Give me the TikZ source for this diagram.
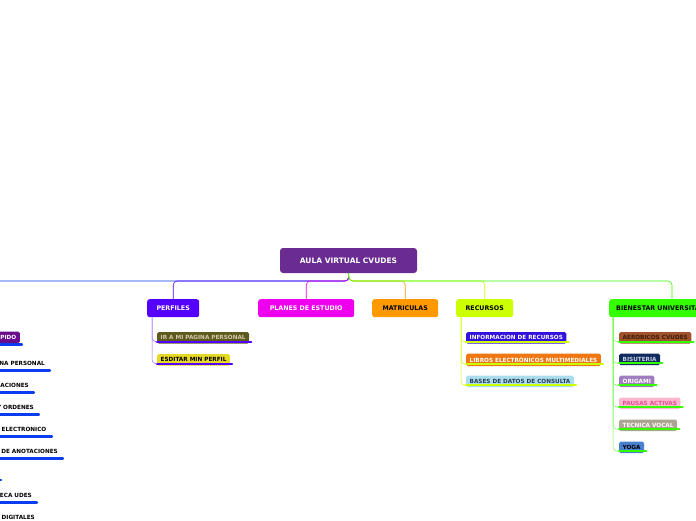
\documentclass[tikz,border=0pt]{standalone}
\usepackage{fontspec}
\setmainfont{DejaVu Sans}
\begin{document}
\begin{tikzpicture}[x=1pt,y=-1pt,
  rootbox/.style={fill=root,text=white,rounded corners=3pt,font=\bfseries\fontsize{7.5}{8}\selectfont,minimum width=137pt,minimum height=25pt,inner sep=0pt},
  brbox/.style={rounded corners=2.5pt,font=\bfseries\fontsize{6.3}{7}\selectfont,minimum height=18pt,inner sep=0pt,anchor=north west},
  subbox/.style={rounded corners=1.5pt,font=\bfseries\fontsize{5.7}{6}\selectfont,minimum height=10.5pt,inner sep=3.5pt,anchor=north west},
  ul/.style={line width=2.2pt,line cap=round},
  conn/.style={line width=0.6pt,rounded corners=4pt}]
\definecolor{root}{HTML}{6A2C91}
\definecolor{cblue}{HTML}{0A3CF0}
\definecolor{cperf}{HTML}{5500FF}
\definecolor{cplan}{HTML}{EE00EE}
\definecolor{cmat}{HTML}{FF9900}
\definecolor{crec}{HTML}{CCFF00}
\definecolor{cbien}{HTML}{33FF00}
\useasboundingbox (0,0) rectangle (696,520);
\clip (0,0) rectangle (696,520);
\node[rootbox] (root) at (348.5,260.5) {AULA VIRTUAL CVUDES};
\node[brbox,fill=cperf,text=white,minimum width=52pt] (perf) at (147,299) {PERFILES};
\node[brbox,fill=cplan,text=white,minimum width=96pt] (plan) at (258,299) {PLANES DE ESTUDIO};
\node[brbox,fill=cmat,text=black,minimum width=66pt] (mat) at (372,299) {MATRICULAS};
\node[brbox,fill=crec,text=black,minimum width=57pt] (rec) at (456,299) {RECURSOS};
\node[brbox,fill=cbien,text=black,inner xsep=7pt] (bien) at (609,299) {BIENESTAR UNIVERSITARIO};
\coordinate (leftend) at (-20,281);
\coordinate (hub) at (349,281);
\draw[conn,cblue] (root.south) -- (hub) -- (leftend);
\foreach \b/\c in {perf/cperf,plan/cplan,mat/cmat,rec/crec}
  \draw[conn,\c] (root.south) -- (hub) -| (\b.north);
\draw[conn,cbien] (root.south) -- (hub) -| (672,299);
% PERFILES
\node[subbox,fill={rgb,255:red,94;green,90;blue,30},text={rgb,255:red,210;green,205;blue,170}] (p1) at (157,332) {IR A MI PAGINA PERSONAL};
\node[subbox,fill={rgb,255:red,230;green,216;blue,36},text=black] (p2) at (157,354) {ESDITAR MIN PERFIL};
\foreach \n in {p1,p2}{
  \draw[ul,cperf] ([yshift=2pt]\n.south west) -- ([xshift=2pt,yshift=2pt]\n.south east);
  \draw[conn,cperf!60,line width=0.5pt] ([xshift=5pt]perf.south west) |- ([yshift=2pt]\n.south west);}
% RECURSOS
\node[subbox,fill={rgb,255:red,51;green,17;blue,221},text=white] (r1) at (466,332) {INFORMACION DE RECURSOS};
\node[subbox,fill={rgb,255:red,238;green,119;blue,17},text=white] (r2) at (466,353.5) {LIBROS ELECTRÓNICOS MULTIMEDIALES};
\node[subbox,fill={rgb,255:red,170;green,221;blue,238},text={rgb,255:red,40;green,60;blue,80}] (r3) at (466,375.5) {BASES DE DATOS DE CONSULTA};
\foreach \n in {r1,r2,r3}{
  \draw[ul,crec] ([yshift=2pt]\n.south west) -- ([xshift=2pt,yshift=2pt]\n.south east);
  \draw[conn,crec,line width=0.5pt] ([xshift=5pt]rec.south west) |- ([yshift=2pt]\n.south west);}
% BIENESTAR
\node[subbox,fill={rgb,255:red,160;green,82;blue,45},text={rgb,255:red,60;green,30;blue,10}] (b1) at (619,332) {AEROBICOS CVUDES};
\node[subbox,fill={rgb,255:red,15;green,42;blue,92},text={rgb,255:red,200;green,210;blue,230}] (b2) at (619,353.5) {BISUTERIA};
\node[subbox,fill={rgb,255:red,160;green,124;blue,192},text=white] (b3) at (619,375.5) {ORIGAMI};
\node[subbox,fill={rgb,255:red,255;green,182;blue,208},text={rgb,255:red,224;green,80;blue,144}] (b4) at (619,397.5) {PAUSAS ACTIVAS};
\node[subbox,fill={rgb,255:red,170;green,165;blue,144},text=white] (b5) at (619,419.5) {TECNICA VOCAL};
\node[subbox,fill={rgb,255:red,74;green,128;blue,208},text=black] (b6) at (619,441.5) {YOGA};
\foreach \n in {b1,b2,b3,b4,b5,b6}{
  \draw[ul,cbien] ([yshift=2pt]\n.south west) -- ([xshift=2pt,yshift=2pt]\n.south east);
  \draw[conn,cbien!70,line width=0.5pt] ([xshift=4pt]bien.south west) |- ([yshift=2pt]\n.south west);}
% left branch (cut off)
\node[subbox,fill={rgb,255:red,106;green,10;blue,140},text=white,anchor=north east] (l1) at (20,331.5) {PIDO};
\draw[ul,cblue] (-10,344.5) -- (22,344.5);
\foreach \n/\t/\xe/\y/\ue in {l2/INA PERSONAL/48.5/358/50, l3/ACIONES/32.5/380/34, l4/Y ORDENES/37.5/402/39, l5/O ELECTRONICO/50/424/52, l6/DE ANOTACIONES/61.5/446/63, l8/TECA UDES/35.5/490/37, l9/DIGITALES/38.5/512/40}{
  \node[subbox,anchor=north east,text=black] (\n) at (\xe,\y) {\t};
  \draw[ul,cblue] (-10,\y+12.5) -- (\ue,\y+12.5);}
\coordinate (l7) at (1,480);
\draw[ul,cblue] (-10,480) -- (l7);
\end{tikzpicture}
\end{document}
